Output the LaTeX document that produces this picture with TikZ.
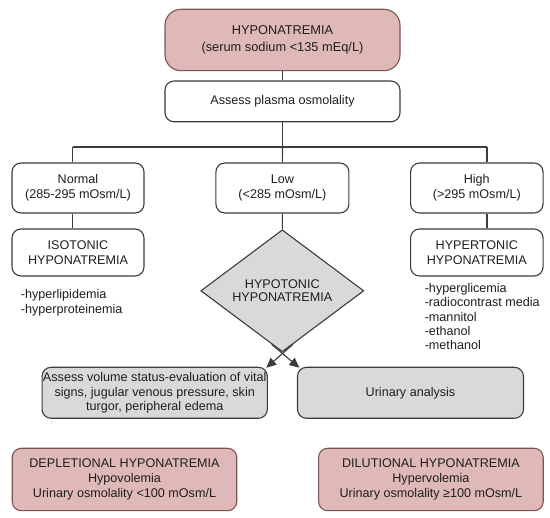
\documentclass[tikz,border=0pt]{standalone}
\usepackage{fontspec}
\setmainfont{Liberation Sans}
\usetikzlibrary{shapes.geometric,arrows.meta,calc}
\definecolor{pinkfill}{HTML}{DFB9B7}
\definecolor{pinkdraw}{HTML}{7A5654}
\definecolor{grayfill}{HTML}{D9D9D9}
\definecolor{linec}{HTML}{3C3C3C}
\definecolor{textc}{HTML}{1E1E1E}
\begin{document}
\begin{tikzpicture}[x=1pt,y=-1pt,
  every node/.style={text=textc},
  box/.style={draw=linec, line width=1.1pt, rounded corners=9pt, align=center, inner sep=0pt,
    font=\fontsize{12.6}{15}\selectfont},
  pinkbox/.style={box, draw=pinkdraw, fill=pinkfill},
  graybox/.style={box, fill=grayfill},
  listtext/.style={align=left, inner sep=0pt, anchor=west},
  conn/.style={draw=linec, line width=1.1pt},
  arr/.style={conn, -{Triangle[length=10pt,width=9pt]}, fill=black}
]
\useasboundingbox[fill=white] (0,0) rectangle (550,518);

\node[pinkbox, rounded corners=16pt, minimum width=235pt, minimum height=61.4pt,
  font=\fontsize{12.8}{17}\selectfont] (top) at (282.5,40) {HYPONATREMIA\\(serum sodium <135 mEq/L)};
\node[box, minimum width=235pt, minimum height=40.7pt] (assess) at (282.5,101.4) {Assess plasma osmolality};

\node[box, minimum width=132pt, minimum height=50pt] (normal) at (78,188) {Normal\\(285-295 mOsm/L)};
\node[box, minimum width=133pt, minimum height=50pt] (low) at (282.4,188) {Low\\(<285 mOsm/L)};
\node[box, minimum width=132.5pt, minimum height=50pt] (high) at (476.8,188) {High\\(>295 mOsm/L)};

\node[box, minimum width=132pt, minimum height=47pt] (iso) at (78,252.5) {ISOTONIC\\HYPONATREMIA};
\node[box, minimum width=132.5pt, minimum height=47pt] (hyper) at (476.8,252.5) {HYPERTONIC\\HYPONATREMIA};

\node[diamond, draw=linec, line width=1.1pt, fill=grayfill, minimum width=163pt, minimum height=122pt,
  inner sep=0pt, aspect=1.34, align=center, font=\fontsize{12.6}{13.5}\selectfont] (hypo) at (282.3,290.8) {HYPOTONIC\\HYPONATREMIA};

\node[listtext, font=\fontsize{12.6}{15}\selectfont] (isolist) at (20.7,302.5) {-hyperlipidemia\\-hyperproteinemia};
\node[listtext, font=\fontsize{12.6}{14.3}\selectfont] (hyperlist) at (424.6,316.7) {-hyperglicemia\\-radiocontrast media\\-mannitol\\-ethanol\\-methanol};

\node[graybox, minimum width=225.3pt, minimum height=51pt, font=\fontsize{12.6}{14.2}\selectfont] (vol) at (154.7,392.8) {Assess volume status-evaluation of vital\\signs, jugular venous pressure, skin\\turgor, peripheral edema};
\node[graybox, minimum width=226pt, minimum height=51pt] (urin) at (410.5,392.8) {Urinary analysis};

\node[pinkbox, minimum width=224.5pt, minimum height=62.4pt] (depl) at (124.5,479.5) {DEPLETIONAL HYPONATREMIA\\Hypovolemia\\Urinary osmolality <100 mOsm/L};
\node[pinkbox, minimum width=224.6pt, minimum height=62.4pt] (dilu) at (430.9,479.5) {DILUTIONAL HYPONATREMIA\\Hypervolemia\\Urinary osmolality ≥100 mOsm/L};

% connectors
\coordinate (bar) at (282.5,147);
\coordinate (lx) at (72.7,147);
\coordinate (rx) at (487,147);
\draw[conn] (top.south) -- (assess.north);
\draw[conn] (assess.south) -- (bar);
\draw[conn] (lx) -- (rx);
\draw[conn] (lx) -- (lx |- normal.north);
\draw[conn] (bar) -- (low.north);
\draw[conn] (rx) -- (rx |- high.north);
\draw[conn] (lx |- normal.south) -- (lx |- iso.north);
\draw[conn] (rx |- high.south) -- (rx |- hyper.north);
\draw[conn] (low.south) -- (hypo.north);

\draw[arr] ($(hypo.south)!0.13!(hypo.west)$) -- ($(urin.north west)+(2.4,1)$);
\draw[arr] ($(hypo.south)!0.13!(hypo.east)$) -- ($(vol.north east)+(-1.7,1)$);
\end{tikzpicture}
\end{document}
